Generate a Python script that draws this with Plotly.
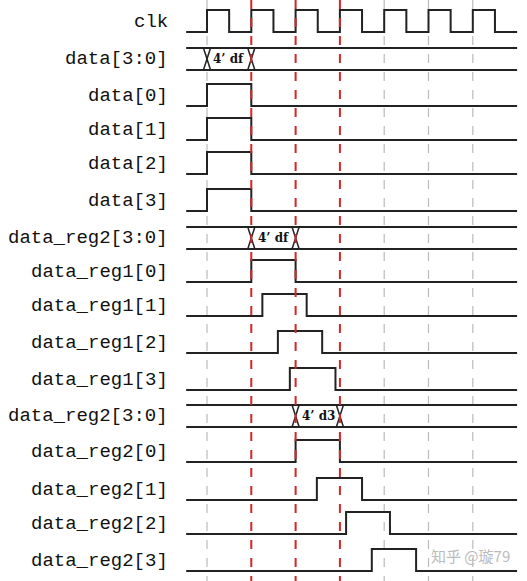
import plotly.graph_objects as go

# signal names, top to bottom
names = ["clk", "data[3:0]", "data[0]", "data[1]", "data[2]", "data[3]",
         "data_reg2[3:0]", "data_reg1[0]", "data_reg1[1]", "data_reg1[2]",
         "data_reg1[3]", "data_reg2[3:0]", "data_reg2[0]", "data_reg2[1]",
         "data_reg2[2]", "data_reg2[3]"]
kinds = ["clk", "bus", "bit", "bit", "bit", "bit", "bus", "bit", "bit", "bit",
         "bit", "bus", "bit", "bit", "bit", "bit"]
# (rise, fall) in clock periods for bit rows, (start, end) for bus rows
edges = [None, (0, 1), (0, 1), (0, 1), (0, 1), (0, 1), (1, 2), (1, 2),
         (1.25, 2.25), (1.6, 2.6), (1.87, 2.9), (2, 3), (2, 3), (2.48, 3.5),
         (3.14, 4.13), (3.72, 4.72)]
bus_text = {1: "4’ df", 6: "4’ df", 11: "4’ d3"}
clk_edges = [0, 1, 2, 3, 4, 5, 6]
red_edges = [1, 2, 3]

row_y = [22, 59, 96, 130, 164, 201, 238, 272, 306, 343, 380, 416, 452, 490, 524, 561]
T0, T1 = -0.47, 7.0
px_per_t, x0 = 44.3, 207
ink = "#222"

fig = go.Figure()
shapes = []
for t in clk_edges:
    shapes.append(dict(type="line", x0=t, x1=t, y0=0, y1=581, layer="below",
                       line=dict(color="#bbb", width=1.2, dash="dash")))
for t in red_edges:
    shapes.append(dict(type="line", x0=t, x1=t, y0=0, y1=581,
                       line=dict(color="#d62728", width=2, dash="dash")))

anns = []
for i, (nm, kd) in enumerate(zip(names, kinds)):
    yc = row_y[i]
    hi, lo = yc - 12, yc + 10
    anns.append(dict(x=170, xref="x2", y=yc, text=nm, showarrow=False,
                     xanchor="right", font=dict(family="Liberation Mono", size=19, color="#111")))
    if kd == "clk":
        xs, ys = [T0, 0], [lo, lo]
        for t in clk_edges:
            xs += [t, t, t + 0.5, t + 0.5, min(t + 1, T1)]
            ys += [lo, hi, hi, lo, lo]
        fig.add_trace(go.Scatter(x=xs, y=ys, mode="lines", line=dict(color=ink, width=2)))
    elif kd == "bit":
        r, f = edges[i]
        fig.add_trace(go.Scatter(x=[T0, r, r, f, f, T1], y=[lo, lo, hi, hi, lo, lo],
                                 mode="lines", line=dict(color=ink, width=2)))
    else:
        s, e = edges[i]
        hi, lo = yc - 11, yc + 11
        for yy in (hi, lo):
            fig.add_trace(go.Scatter(x=[T0, T1], y=[yy, yy], mode="lines",
                                     line=dict(color=ink, width=2)))
        for t in (s, e):
            fig.add_trace(go.Scatter(x=[t - 0.08, t + 0.08, None, t - 0.08, t + 0.08],
                                     y=[hi, lo, None, lo, hi], mode="lines",
                                     line=dict(color=ink, width=1.5)))
        anns.append(dict(x=s + 0.1, y=yc, text="<b>" + bus_text[i] + "</b>", showarrow=False,
                         xanchor="left", font=dict(family="DejaVu Serif", size=12, color="#111")))

anns.append(dict(x=470, xref="x2", y=555, text="知乎 @璇79", showarrow=False,
                 font=dict(family="Noto Sans CJK SC", size=15, color="#bbb")))

fig.update_layout(
    width=527, height=581, margin=dict(l=0, r=0, t=0, b=0),
    plot_bgcolor="white", paper_bgcolor="white", showlegend=False,
    shapes=shapes, annotations=anns,
    xaxis=dict(range=[-x0 / px_per_t, (527 - x0) / px_per_t], visible=False),
    xaxis2=dict(range=[0, 527], visible=False, overlaying="x"),
    yaxis=dict(range=[581, 0], visible=False),
)
fig.write_html("out.html", config={"displayModeBar": False},
               post_script="document.body.style.margin='0';")
